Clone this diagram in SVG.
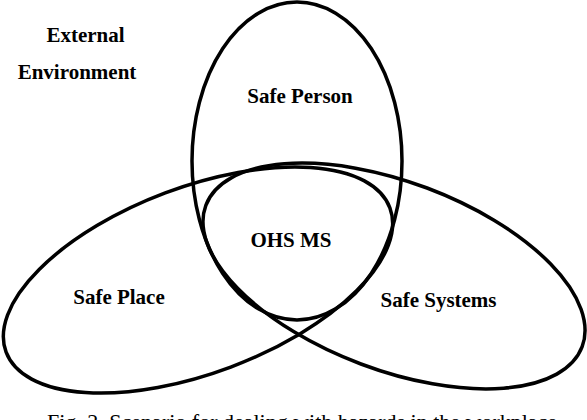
<svg xmlns="http://www.w3.org/2000/svg" width="587" height="420" viewBox="0 0 587 420">
<style>
.sh{fill:none;stroke:#000;stroke-width:3.5}
.lb{font-family:"Liberation Serif","Times New Roman",serif;font-weight:bold;font-size:21px;fill:#000;text-anchor:middle}
.cap{font-family:"Liberation Serif","Times New Roman",serif;font-size:22px;fill:#000}
</style>
<rect width="587" height="420" fill="#fff"/>
<g id="connectors"></g>
<g id="safe-person">
<ellipse class="sh" cx="297" cy="161" rx="105" ry="159"/>
<text class="lb" x="300" y="103">Safe Person</text>
</g>
<g id="safe-place">
<ellipse class="sh" cx="198" cy="280" rx="205" ry="93" transform="rotate(-20.6 198 280)"/>
<text class="lb" x="119" y="304">Safe Place</text>
</g>
<g id="safe-systems">
<ellipse class="sh" cx="394" cy="276" rx="201" ry="94" transform="rotate(20.6 394 276)"/>
<text class="lb" x="438.5" y="307">Safe Systems</text>
</g>
<g id="ohs-ms">
<text class="lb" x="291" y="247">OHS MS</text>
</g>
<g id="external-environment">
<text class="lb" x="85.5" y="41.5">External</text>
<text class="lb" x="77" y="79">Environment</text>
</g>
<g id="caption">
<text class="cap" x="47" y="429">Fig. 2. Scenario for dealing with hazards in the workplace</text>
</g>
</svg>
